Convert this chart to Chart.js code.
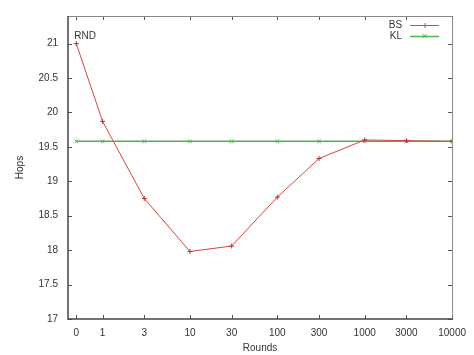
<!DOCTYPE html>
<html>
<head>
<meta charset="utf-8">
<script src="https://cdn.jsdelivr.net/npm/chart.js@4"></script>
<style>
  html, body { margin: 0; padding: 0; background: #fff; }
  #wrap { width: 474px; height: 355px; position: relative; }
</style>
</head>
<body>
<div id="wrap"><canvas id="c" width="474" height="355"></canvas></div>
<script>
// ---- data ----
const rounds = [0, 1, 3, 10, 30, 100, 300, 1000, 3000, 10000];
const bsHops = [21.0, 19.87, 18.75, 17.98, 18.06, 18.77, 19.33, 19.6, 19.59, 19.58];
const klHops = [19.58, 19.58, 19.58, 19.58, 19.58, 19.58, 19.58, 19.58, 19.58, 19.58];
const yTicks = [17, 17.5, 18, 18.5, 19, 19.5, 20, 20.5, 21];
const seriesNames = ['BS', 'KL'];
const noteText = 'RND';

// position used for round 0 on the log axis
const ZERO_POS = 0.5;
const xPos = r => (r === 0 ? ZERO_POS : r);

const FONT = '"Liberation Sans", Arial, sans-serif';
const TXT = '#333';
const RED = '#d9443f';
const GREEN = '#4db34d';

const frameTicks = {
  id: 'frameTicks',
  afterDraw(chart) {
    const {ctx, chartArea: a, scales: {x, y}} = chart;
    ctx.save();
    // inward tick marks (gnuplot style, mirrored)
    ctx.strokeStyle = '#555';
    ctx.lineWidth = 1;
    ctx.beginPath();
    x.ticks.forEach(t => {
      const px = Math.round(x.getPixelForValue(t.value)) + 0.5;
      ctx.moveTo(px, a.bottom); ctx.lineTo(px, a.bottom - 4);
      ctx.moveTo(px, a.top); ctx.lineTo(px, a.top + 4);
    });
    y.ticks.forEach(t => {
      const py = Math.round(y.getPixelForValue(t.value)) + 0.5;
      ctx.moveTo(a.left, py); ctx.lineTo(a.left + 4, py);
      ctx.moveTo(a.right, py); ctx.lineTo(a.right - 4, py);
    });
    ctx.stroke();
    // frame
    ctx.strokeStyle = '#888';
    ctx.lineWidth = 1;
    ctx.beginPath();
    ctx.moveTo(a.left, a.top + 0.5); ctx.lineTo(a.right + 0.5, a.top + 0.5);
    ctx.lineTo(a.right + 0.5, a.bottom);
    ctx.stroke();
    ctx.strokeStyle = '#444';
    ctx.lineWidth = 1.5;
    ctx.beginPath();
    ctx.moveTo(a.left, a.top); ctx.lineTo(a.left, a.bottom); ctx.lineTo(a.right + 1, a.bottom);
    ctx.stroke();

    // note label near first point
    ctx.fillStyle = TXT;
    ctx.font = '10px ' + FONT;
    ctx.textAlign = 'left';
    ctx.textBaseline = 'middle';
    const nx = x.getPixelForValue(xPos(rounds[0]));
    const ny = y.getPixelForValue(bsHops[0]);
    ctx.fillText(noteText, nx - 2, ny - 7);

    // legend (top-right, inside)
    chart.data.datasets.forEach((ds, i) => {
      const ly = a.top + 9 + i * 11;
      const textRight = a.right - 50;
      ctx.fillStyle = TXT;
      ctx.textAlign = 'right';
      ctx.fillText(ds.label, textRight, ly);
      const x0 = a.right - 42, x1 = a.right - 13;
      ctx.strokeStyle = ds.borderColor;
      ctx.lineWidth = ds.borderWidth;
      ctx.beginPath();
      ctx.moveTo(x0, ly + 0.5); ctx.lineTo(x1, ly + 0.5);
      ctx.stroke();
      const mx = (x0 + x1) / 2;
      ctx.lineWidth = 1;
      ctx.beginPath();
      if (ds.pointStyle === 'cross') {
        ctx.moveTo(mx - 2.5, ly + 0.5); ctx.lineTo(mx + 2.5, ly + 0.5);
        ctx.moveTo(mx + 0.5, ly - 2); ctx.lineTo(mx + 0.5, ly + 3);
      } else {
        ctx.moveTo(mx - 2, ly - 2); ctx.lineTo(mx + 2, ly + 2);
        ctx.moveTo(mx + 2, ly - 2); ctx.lineTo(mx - 2, ly + 2);
      }
      ctx.stroke();
    });
    ctx.restore();
  }
};

new Chart(document.getElementById('c'), {
  type: 'line',
  data: {
    datasets: [
      {
        label: seriesNames[0],
        data: rounds.map((r, i) => ({x: xPos(r), y: bsHops[i]})),
        borderColor: RED, backgroundColor: RED,
        borderWidth: 1, pointStyle: 'cross', pointRadius: 2.5,
        pointBorderWidth: 1, pointBorderColor: '#c03030', tension: 0
      },
      {
        label: seriesNames[1],
        data: rounds.map((r, i) => ({x: xPos(r), y: klHops[i]})),
        borderColor: GREEN, backgroundColor: GREEN,
        borderWidth: 1.5, pointStyle: 'crossRot', pointRadius: 2.5,
        pointBorderWidth: 1, tension: 0
      }
    ]
  },
  options: {
    responsive: false,
    animation: false,
    events: [],
    layout: { padding: { left: 0, right: 14, top: 12, bottom: 0 } },
    plugins: { legend: { display: false }, tooltip: { enabled: false } },
    scales: {
      x: {
        type: 'logarithmic',
        min: 0.402, max: 10000,
        grid: { display: false, drawTicks: false },
        border: { display: false },
        afterBuildTicks: s => { s.ticks = rounds.map(r => ({value: xPos(r)})); },
        afterFit: s => { s.height = 36; },
        ticks: {
          autoSkip: false, maxRotation: 0, padding: 8,
          color: TXT, font: { family: FONT, size: 10 },
          callback: (v) => String(rounds[rounds.map(xPos).indexOf(v)])
        },
        title: { display: true, text: 'Rounds', color: TXT,
                 font: { family: FONT, size: 10 }, padding: { top: 0, bottom: 1 } }
      },
      y: {
        type: 'linear',
        min: 17, max: 21.4,
        grid: { display: false, drawTicks: false },
        border: { display: false },
        afterBuildTicks: s => { s.ticks = yTicks.map(v => ({value: v})); },
        afterFit: s => { s.width = 68; },
        ticks: {
          padding: 10, color: TXT, font: { family: FONT, size: 10 },
          callback: v => String(v)
        },
        title: { display: true, text: 'Hops', color: TXT,
                 font: { family: FONT, size: 10 }, padding: { top: 14, bottom: 0 } }
      }
    }
  },
  plugins: [frameTicks]
});
</script>
</body>
</html>
